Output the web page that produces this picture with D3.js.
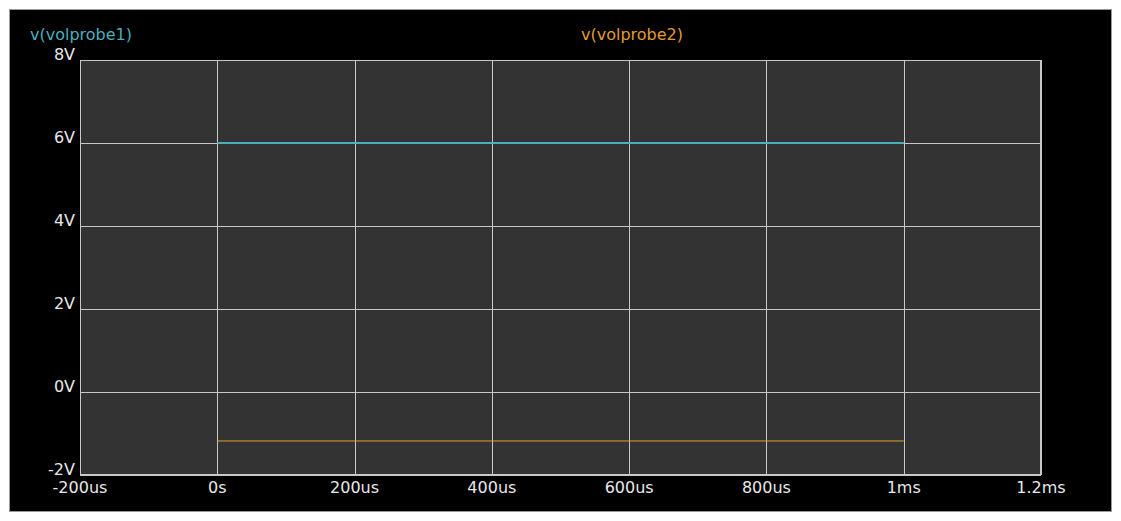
<!DOCTYPE html>
<html><head><meta charset="utf-8">
<script src="https://cdn.jsdelivr.net/npm/d3@7"></script>
<style>html,body{margin:0;padding:0;background:#fff;}svg{display:block;}</style>
</head><body>
<svg id="c" width="1121" height="521"></svg>
<script>
const seriesNames = ["v(volprobe1)", "v(volprobe2)"];
const seriesColors = ["#4aaebb", "#e39b2a"];
const timeS = [0, 0.001];
const probe1 = [6, 6];
const probe2 = [-1.18, -1.18];
const xTicks = [-0.0002, 0, 0.0002, 0.0004, 0.0006, 0.0008, 0.001, 0.0012];
const xTickLabels = ["-200us", "0s", "200us", "400us", "600us", "800us", "1ms", "1.2ms"];
const yTicks = [-2, 0, 2, 4, 6, 8];
const yTickLabels = ["-2V", "0V", "2V", "4V", "6V", "8V"];

const svg = d3.select("#c");
svg.append("rect").attr("x", 9.5).attr("y", 9.5).attr("width", 1102).attr("height", 502)
  .attr("fill", "#000").attr("stroke", "#999");
const L = 80, R = 1041, T = 60, B = 475;
const x = d3.scaleLinear().domain([-0.0002, 0.0012]).range([L, R]);
const y = d3.scaleLinear().domain([-2, 8]).range([B, T]);
svg.append("rect").attr("x", L).attr("y", T).attr("width", R - L).attr("height", B - T).attr("fill", "#333");

const g = svg.append("g");
g.selectAll(".vx").data(xTicks).join("line")
  .attr("x1", d => Math.round(x(d)) + 0.5).attr("x2", d => Math.round(x(d)) + 0.5)
  .attr("y1", T).attr("y2", B).attr("stroke", "#c8c8c8").attr("stroke-width", 1);
g.selectAll(".hy").data(yTicks).join("line")
  .attr("y1", d => Math.round(y(d)) + 0.5).attr("y2", d => Math.round(y(d)) + 0.5)
  .attr("x1", L).attr("x2", R).attr("stroke", "#c8c8c8").attr("stroke-width", 1);
svg.append("rect").attr("x", L + 0.5).attr("y", T + 0.5).attr("width", R - L - 1).attr("height", B - T - 1)
  .attr("fill", "none").attr("stroke", "#c8c8c8");

const font = "DejaVu Sans, sans-serif";
svg.selectAll(".xl").data(xTicks).join("text")
  .attr("x", d => x(d)).attr("y", 493).attr("text-anchor", "middle")
  .attr("font-family", font).attr("font-size", 16).attr("fill", "#e8e8e8")
  .text((d, i) => xTickLabels[i]);
svg.selectAll(".yl").data(yTicks).join("text")
  .attr("x", 75).attr("y", d => y(d)).attr("text-anchor", "end")
  .attr("font-family", font).attr("font-size", 16).attr("fill", "#e8e8e8")
  .text((d, i) => yTickLabels[i]);

const line = d3.line().x(d => x(d[0])).y(d => y(d[1]));
svg.append("path").datum(timeS.map((t, i) => [t, probe1[i]]))
  .attr("d", line).attr("fill", "none").attr("stroke", seriesColors[0]).attr("stroke-width", 2);
svg.append("path").datum(timeS.map((t, i) => [t, probe2[i]]))
  .attr("d", line).attr("fill", "none").attr("stroke", seriesColors[1]).attr("stroke-width", 1);

svg.append("text").attr("x", 30).attr("y", 40).attr("font-family", font).attr("font-size", 16)
  .attr("fill", seriesColors[0]).text(seriesNames[0]);
svg.append("text").attr("x", 581).attr("y", 40).attr("font-family", font).attr("font-size", 16)
  .attr("fill", seriesColors[1]).text(seriesNames[1]);
</script>
</body></html>
